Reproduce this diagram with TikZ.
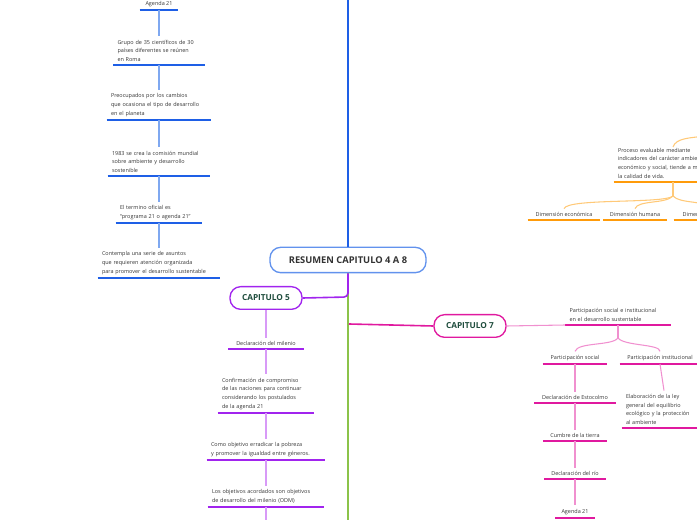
\documentclass[tikz,border=0pt]{standalone}
\usepackage{fontspec}
\setmainfont{Open Sans}
\definecolor{cblue}{HTML}{1E5FE6}
\definecolor{lblue}{HTML}{7FA8F0}
\definecolor{cpurp}{HTML}{A124EE}
\definecolor{lpurp}{HTML}{D89AF7}
\definecolor{cgreen}{HTML}{8BC34A}
\definecolor{cmag}{HTML}{E0199F}
\definecolor{lmag}{HTML}{F090CF}
\definecolor{corange}{HTML}{FF9B0A}
\definecolor{lorange}{HTML}{FFC978}
\definecolor{ctext}{HTML}{333333}
\definecolor{ctitle}{HTML}{1F4D3D}
% left-aligned multi-line item
\newcommand\mmitem[6]{%
  \node[ulbox, text width={#4*0.75pt-6pt}, align=left, anchor=south] (#1) at (#2,#3) {#6};
  \draw[#5, line width=1.2pt] (#1.south west) -- (#1.south east);}
% centred single-line item
\newcommand\mmone[6]{%
  \node[ulbox, minimum width={#4*0.75pt}, anchor=south] (#1) at (#2,#3) {#6};
  \draw[#5, line width=1.2pt] (#1.south west) -- (#1.south east);}
\begin{document}
\begin{tikzpicture}[x=0.75pt,y=-0.75pt,
  ulbox/.style={inner xsep=3pt, inner ysep=2.5pt, text=ctext, font=\fontsize{4.1}{6.5}\selectfont},
  capbox/.style={draw, rounded corners=8pt, line width=1pt, minimum width=54pt, minimum height=17pt, font=\bfseries\fontsize{6.2}{7}\selectfont, text=ctitle, fill=white},
  lkb/.style={lblue, line width=0.8pt},
  lkp/.style={lpurp, line width=0.8pt},
  lkm/.style={lmag, line width=0.8pt},
  lko/.style={lorange, line width=0.8pt}]
\useasboundingbox (0,0) rectangle (697,520);
\clip (0,0) rectangle (697,520);
% main trunks
\coordinate (top) at (348,0);
\coordinate (bot) at (348,520);
\node[capbox, draw=lblue!70!cblue, minimum width=117pt, minimum height=19pt, font=\bfseries\fontsize{7}{8}\selectfont, text=ctext] (c) at (348,260) {RESUMEN CAPITULO 4 A 8};
\draw[cblue, line width=1.2pt] (top) -- (c.north);
\draw[cgreen, line width=1.2pt] (c.south) -- (bot);
\node[capbox, draw=cpurp] (c5) at (266,298) {CAPITULO 5};
\draw[cpurp, line width=1.2pt, rounded corners=3pt] (c.south) -- (348,297) -- (c5.east);
\node[capbox, draw=cmag] (c7) at (470,326) {CAPITULO 7};
\draw[cmag, line width=1.2pt] (349,324) -- (c7.west);
% left blue column
\mmone{a1}{159}{10}{38}{cblue}{Agenda 21}
\mmitem{a2}{159}{65}{91}{cblue}{Grupo de 35 científicos de 30\\ países diferentes se reúnen\\ en Roma}
\mmitem{a3}{159}{120}{104}{cblue}{Preocupados por los cambios\\ que ocasiona el tipo de desarrollo\\ en el planeta}
\mmitem{a4}{159}{176}{102}{cblue}{1983 se crea la comisión mundial\\ sobre ambiente y desarrollo\\ sostenible}
\mmitem{a5}{159}{223}{86}{cblue}{El termino oficial es\\ ``programa 21 o agenda 21''}
\mmitem{a6}{159}{278}{122}{cblue}{Contempla una serie de asuntos\\ que requieren atención organizada\\ para promover el desarrollo sustentable}
\draw[lkb] (a1.south) -- (a2.north);
\draw[lkb] (a2.south) -- (a3.north);
\draw[lkb] (a3.south) -- (a4.north);
\draw[lkb] (a4.south) -- (a5.north);
\draw[lkb] (a5.south) -- (a6.north);
% capitulo 5
\mmone{p1}{266}{349}{75}{cpurp}{Declaración del milenio}
\mmitem{p2}{266}{413}{96}{cpurp}{Confirmación de compromiso\\ de las naciones para continuar\\ considerando los postulados\\ de la agenda 21}
\mmitem{p3}{266}{460}{118}{cpurp}{Como objetivo erradicar la pobreza\\ y promover la igualdad entre géneros.}
\mmitem{p4}{266}{507}{116}{cpurp}{Los objetivos acordados son objetivos\\ de desarrollo del milenio (ODM)}
\coordinate (pend) at (266,520);
\draw[lkp] (c5.south) -- (p1.north);
\draw[lkp] (p1.south) -- (p2.north);
\draw[lkp] (p2.south) -- (p3.north);
\draw[lkp] (p3.south) -- (p4.north);
\draw[lkp] (p4.south) -- (pend);
% capitulo 7
\mmitem{m0}{618}{325}{105}{cmag}{Participación social e institucional\\ en el desarrollo sustentable}
\draw[lkm] (c7.east) -- (m0.south west);
\mmone{m1}{575}{364}{64}{cmag}{Participación social}
\mmone{m2}{660}{364}{80}{cmag}{Participación institucional}
\coordinate (mb) at (618,338);
\draw[lkm] (m0.south) -- (mb);
\draw[lkm] (mb) .. controls (612,346) and (578,342) .. (m1.north);
\draw[lkm] (mb) .. controls (624,346) and (660,344) .. (m2.north);
\mmone{m3}{575}{403}{81}{cmag}{Declaración de Estocolmo}
\mmone{m4}{575}{441}{63}{cmag}{Cumbre de la tierra}
\mmone{m5}{575}{479}{61}{cmag}{Declaración del río}
\mmone{m6}{575}{518}{39}{cmag}{Agenda 21}
\mmitem{m7}{664}{428}{84}{cmag}{Elaboración de la ley\\ general del equilibrio\\ ecológico y la protección\\ al ambiente}
\draw[lkm] (m1.south) -- (m3.north);
\draw[lkm] (m3.south) -- (m4.north);
\draw[lkm] (m4.south) -- (m5.north);
\draw[lkm] (m5.south) -- (m6.north);
\draw[lkm] (m2.south) -- (m7.north);
% orange top right
\mmitem{o0}{668}{182}{108}{corange}{Proceso evaluable mediante\\ indicadores del carácter ambiental,\\ económico y social, tiende a mejorar\\ la calidad de vida.}
\coordinate (oin) at (705,136);
\coordinate (oj) at (673,147);
\draw[lko] (oin) .. controls (690,138) and (676,138) .. (oj);
\mmone{o1}{564}{220}{72}{corange}{Dimensión económica}
\mmone{o2}{635}{220}{63}{corange}{Dimensión humana}
\mmone{o3}{710}{220}{72}{corange}{Dimensión ambiental}
\coordinate (ob) at (673,196);
\draw[lko] (673,182) -- (ob);
\draw[lko] (ob) .. controls (664,204) and (568,198) .. (o1.north);
\draw[lko] (ob) .. controls (666,204) and (638,200) .. (o2.north);
\draw[lko] (ob) .. controls (680,204) and (705,200) .. (o3.north);
\end{tikzpicture}
\end{document}
